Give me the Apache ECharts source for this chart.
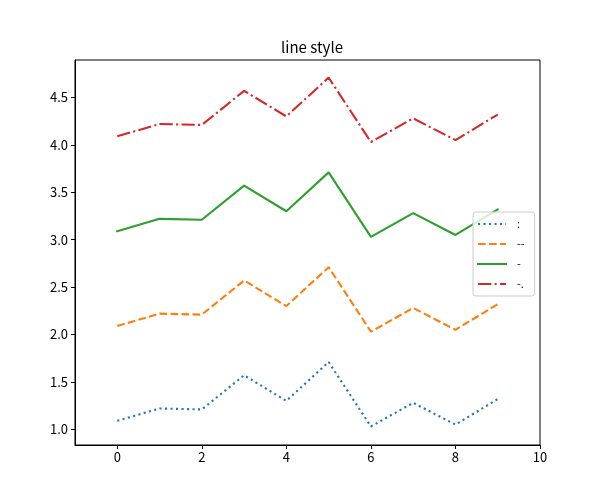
<!DOCTYPE html>
<html>
<head>
<meta charset="utf-8">
<script src="https://cdn.jsdelivr.net/npm/echarts@6/dist/echarts.min.js"></script>
<style>
  html, body { margin: 0; padding: 0; background: #fff; }
  #chart { width: 600px; height: 500px; }
</style>
</head>
<body>
<div id="chart"></div>
<script>
// data
var xs = [0, 1, 2, 3, 4, 5, 6, 7, 8, 9];
var base = [1.09, 1.22, 1.21, 1.57, 1.30, 1.71, 1.03, 1.28, 1.05, 1.32];
var offsets = [0, 1, 2, 3];
var names = [':', '--', '-', '-.'];
var colors = ['#1f77b4', '#ff7f0e', '#2ca02c', '#d62728'];
var yTicks = [1.0, 1.5, 2.0, 2.5, 3.0, 3.5, 4.0, 4.5];
var xTicks = [0, 2, 4, 6, 8, 10];

var FONT = '"Noto Sans CJK JP", "DejaVu Sans", sans-serif';
// matplotlib dash patterns at lw 1.5pt, 100 dpi
var dashes = [[2.1, 3.4], [7.7, 3.3], 'solid', [13.3, 3.3, 2.1, 3.3]];
var caps = ['butt', 'butt', 'square', 'butt'];

var series = offsets.map(function (off, i) {
  return {
    name: names[i],
    type: 'line',
    symbol: 'none',
    silent: true,
    data: xs.map(function (x, j) { return [x, +(base[j] + off).toFixed(2)]; }),
    lineStyle: { color: colors[i], width: 2.1, type: dashes[i], cap: caps[i] },
    itemStyle: { color: colors[i] }
  };
});

var chart = echarts.init(document.getElementById('chart'));
chart.setOption({
  animation: false,
  backgroundColor: '#fff',
  title: {
    text: 'line style',
    left: 307, textAlign: 'center', top: 35,
    textStyle: { fontFamily: FONT, fontSize: 15, fontWeight: 'normal', color: '#000' }
  },
  grid: { left: 75, right: 60, top: 60, bottom: 55, show: true, borderColor: '#000', borderWidth: 1 },
  legend: {
    orient: 'vertical',
    left: 473, top: 212,
    padding: [5, 10, 5, 4],
    itemWidth: 28, itemHeight: 14, itemGap: 6,
    itemStyle: { opacity: 0 },
    backgroundColor: 'rgba(255,255,255,0.8)',
    borderColor: '#cccccc', borderWidth: 1, borderRadius: 3,
    textStyle: { fontFamily: FONT, fontSize: 11, color: '#000', padding: [0, 0, 0, 6], lineHeight: 14 },
    data: names
  },
  xAxis: {
    type: 'value', min: -1, max: 10,
    splitLine: { show: false },
    axisLine: { show: true, onZero: false, lineStyle: { color: '#000' } },
    axisTick: { show: true, length: 4, lineStyle: { color: '#000' }, customValues: xTicks },
    axisLabel: { color: '#000', fontFamily: FONT, fontSize: 13, margin: 6, customValues: xTicks }
  },
  yAxis: {
    type: 'value', min: 0.835, max: 4.895,
    splitLine: { show: false },
    axisLine: { show: true, onZero: false, lineStyle: { color: '#000' } },
    axisTick: { show: true, length: 4, lineStyle: { color: '#000' }, customValues: yTicks },
    axisLabel: {
      color: '#000', fontFamily: FONT, fontSize: 13, margin: 7, customValues: yTicks,
      formatter: function (v) { return v.toFixed(1); }
    }
  },
  series: series
});
</script>
</body>
</html>
